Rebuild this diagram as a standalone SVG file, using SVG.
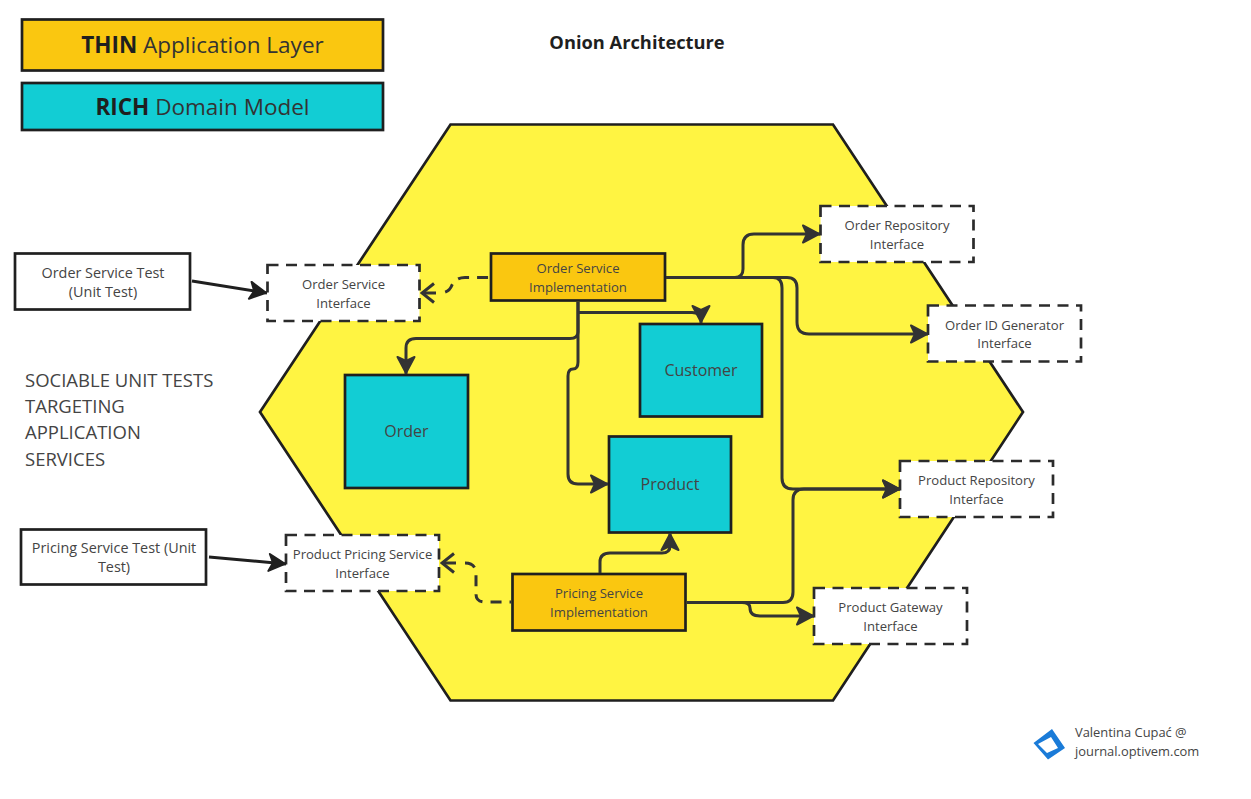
<svg xmlns="http://www.w3.org/2000/svg" width="1251" height="799" viewBox="0 0 1251 799">
<style>
text{font-family:"Open Sans","Liberation Sans",sans-serif;fill:#444;text-anchor:middle}
.s{font-size:13.1px}.m{font-size:14.4px}.l{font-size:16px}.x{font-size:22.500px;fill:#333}
.b{font-weight:700;fill:#1f1f1f}
.box{stroke:#1f1f1f;stroke-width:2.700}
.dash{fill:#fff;stroke:#2b2b2b;stroke-width:2.700;stroke-dasharray:11 7.500}
.c{fill:none;stroke:#333;stroke-width:3;stroke-linejoin:round}
.cd{fill:none;stroke:#333;stroke-width:3}
.t{fill:none;stroke:#1f1f1f;stroke-width:3}
</style>
<defs>
<marker id="a" markerUnits="userSpaceOnUse" markerWidth="24" markerHeight="26" refX="20" refY="13" orient="auto"><path d="M3 4.500L19 13L3 21.500L7 13Z" fill="#333" stroke="#333" stroke-width="2" stroke-linejoin="round"/></marker>
<marker id="k" markerUnits="userSpaceOnUse" markerWidth="24" markerHeight="26" refX="20" refY="13" orient="auto"><path d="M3 4.500L19 13L3 21.500L7 13Z" fill="#1f1f1f" stroke="#1f1f1f" stroke-width="2" stroke-linejoin="round"/></marker>
<marker id="o" markerUnits="userSpaceOnUse" markerWidth="20" markerHeight="26" refX="2" refY="13" orient="auto"><path d="M14 3.500L2 13L14 22.500" fill="none" stroke="#333" stroke-width="3"/></marker>
</defs>
<rect width="1251" height="799" fill="#fff"/>
<path id="hexagon" d="M450.500 124.500H833L1023 412L833 700.500H450.500L260 412Z" fill="#fff442" stroke="#1f1f1f" stroke-width="2.700"/>
<g id="legend-thin"><rect class="box" x="22" y="19.500" width="361" height="51" fill="#fac710"/><text class="x" x="202.500" y="53"><tspan class="b">THIN</tspan> Application Layer</text></g>
<g id="legend-rich"><rect class="box" x="22" y="83" width="361" height="47" fill="#12cdd4"/><text class="x" x="202.500" y="115"><tspan class="b">RICH</tspan> Domain Model</text></g>
<text id="title" x="637" y="48.500" style="font-size:18.300px;font-weight:700;fill:#1f1f1f">Onion Architecture</text>
<g id="order-test"><rect class="box" x="15" y="253.500" width="175" height="56" fill="#fff"/><text class="m" x="103" y="278">Order Service Test</text><text class="m" x="103" y="297">(Unit Test)</text></g>
<g id="pricing-test"><rect class="box" x="21" y="529.500" width="185" height="55" fill="#fff"/><text class="m" x="114" y="553">Pricing Service Test (Unit</text><text class="m" x="114" y="572">Test)</text></g>
<g id="order-iface"><rect class="dash" x="267.500" y="265" width="152" height="56"/><text class="s" x="343.500" y="289">Order Service</text><text class="s" x="343.500" y="308">Interface</text></g>
<g id="pricing-iface"><rect class="dash" x="286" y="535" width="153" height="56"/><text class="s" x="362.500" y="559">Product Pricing Service</text><text class="s" x="362.500" y="578">Interface</text></g>
<g id="order-impl"><rect class="box" x="491" y="253.500" width="174" height="47" fill="#fac710"/><text class="s" x="578" y="273">Order Service</text><text class="s" x="578" y="292">Implementation</text></g>
<g id="pricing-impl"><rect class="box" x="512.500" y="574" width="173" height="56.500" fill="#fac710"/><text class="s" x="599" y="598">Pricing Service</text><text class="s" x="599" y="617">Implementation</text></g>
<g id="customer"><rect class="box" x="640" y="324" width="122" height="92.500" fill="#12cdd4"/><text class="l" x="701" y="376">Customer</text></g>
<g id="order"><rect class="box" x="345" y="375" width="123" height="113" fill="#12cdd4"/><text class="l" x="406.500" y="437">Order</text></g>
<g id="product"><rect class="box" x="609" y="436.500" width="122" height="96" fill="#12cdd4"/><text class="l" x="670" y="490">Product</text></g>
<g id="order-repo"><rect class="dash" x="820.500" y="206" width="153" height="56"/><text class="s" x="897" y="230">Order Repository</text><text class="s" x="897" y="249">Interface</text></g>
<g id="id-gen"><rect class="dash" x="928" y="305.500" width="153" height="56"/><text class="s" x="1004.500" y="330">Order ID Generator</text><text class="s" x="1004.500" y="348">Interface</text></g>
<g id="product-repo"><rect class="dash" x="900" y="461" width="153" height="56"/><text class="s" x="976.500" y="485">Product Repository</text><text class="s" x="976.500" y="504">Interface</text></g>
<g id="gateway"><rect class="dash" x="814" y="588" width="153" height="56"/><text class="s" x="890.500" y="612">Product Gateway</text><text class="s" x="890.500" y="631">Interface</text></g>
<g id="side-label" style="font-size:18.500px"><text x="25" y="387" style="text-anchor:start">SOCIABLE UNIT TESTS</text><text x="25" y="413" style="text-anchor:start">TARGETING</text><text x="25" y="439" style="text-anchor:start">APPLICATION</text><text x="25" y="466" style="text-anchor:start">SERVICES</text></g>
<g id="credit"><path d="M1033.500 743L1052 729L1065 748L1048 759.500Z M1038 744L1051 737L1058 748L1047 753Z" fill="#1a7bd8" fill-rule="evenodd"/><text x="1075" y="737" style="text-anchor:start;font-size:12.900px">Valentina Cupać @</text><text x="1075" y="756" style="text-anchor:start;font-size:12.900px">journal.optivem.com</text></g>
<g id="connectors">
<path class="t" marker-end="url(#k)" d="M192 281L267 293"/>
<path class="t" marker-end="url(#k)" d="M209 557L286 564"/>
<path class="cd" stroke-dasharray="14 9 11 8 11 8 11 8 20" marker-start="url(#o)" d="M422 293H440Q449 293 452 285Q456 277.500 465 277.500H490"/>
<path class="cd" stroke-dasharray="14 9 11 8 11 8 11 8 11 8 11 8 20" marker-start="url(#o)" d="M442 563H465Q476 563 476 574V594Q476 602 485 602H511"/>
<path class="c" marker-end="url(#a)" d="M578 302V332Q578 338.500 570 338.500H416Q406 338.500 406 348V374"/>
<path class="c" marker-end="url(#a)" d="M578 312.500H692Q701 312.500 701 320V323"/>
<path class="c" marker-end="url(#a)" d="M578 302V362Q578 369 573 369Q568 369 568 376V474Q568 484 578 484H608"/>
<path class="c" marker-end="url(#a)" d="M666 277.500H735Q743 277.500 743 269V245Q743 234 754 234H820"/>
<path class="c" marker-end="url(#a)" d="M666 277.500H787Q797 277.500 797 288V322Q797 334 809 334H928"/>
<path class="c" marker-end="url(#a)" d="M666 277.500H773Q782 277.500 782 288V478Q782 489 793 489H900"/>
<path class="c" marker-end="url(#a)" d="M687 602.500H783Q793 602.500 793 592V500Q793 489 804 489H900"/>
<path class="c" marker-end="url(#a)" d="M687 602.500H742Q750 602.500 750 608Q750 616 760 616H814"/>
<path class="c" marker-end="url(#a)" d="M600 573V562Q600 553 610 553H662Q670 553 670 546V533"/>
</g>
</svg>
